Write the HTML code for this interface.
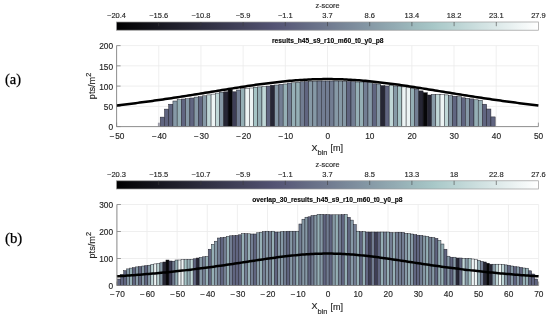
<!DOCTYPE html>
<html><head><meta charset="utf-8"><style>
html,body{margin:0;padding:0;background:#fff;}
body{width:550px;height:320px;overflow:hidden;}
svg{display:block;}
</style></head><body>
<svg width="550" height="320" viewBox="0 0 550 320">
<defs><linearGradient id="bone" x1="0" x2="1" y1="0" y2="0"><stop offset="0.0000" stop-color="#000000"/><stop offset="0.0156" stop-color="#030305"/><stop offset="0.0312" stop-color="#07070a"/><stop offset="0.0469" stop-color="#0a0a0e"/><stop offset="0.0625" stop-color="#0e0e13"/><stop offset="0.0781" stop-color="#111118"/><stop offset="0.0938" stop-color="#15151d"/><stop offset="0.1094" stop-color="#181822"/><stop offset="0.1250" stop-color="#1c1c27"/><stop offset="0.1406" stop-color="#1f1f2b"/><stop offset="0.1562" stop-color="#232330"/><stop offset="0.1719" stop-color="#262635"/><stop offset="0.1875" stop-color="#2a2a3a"/><stop offset="0.2031" stop-color="#2d2d3f"/><stop offset="0.2188" stop-color="#313143"/><stop offset="0.2344" stop-color="#343448"/><stop offset="0.2500" stop-color="#38384d"/><stop offset="0.2656" stop-color="#3b3b52"/><stop offset="0.2812" stop-color="#3f3f57"/><stop offset="0.2969" stop-color="#42425b"/><stop offset="0.3125" stop-color="#464660"/><stop offset="0.3281" stop-color="#494965"/><stop offset="0.3438" stop-color="#4d4d6a"/><stop offset="0.3594" stop-color="#50506f"/><stop offset="0.3750" stop-color="#545474"/><stop offset="0.3906" stop-color="#575877"/><stop offset="0.4062" stop-color="#5b5d7b"/><stop offset="0.4219" stop-color="#5e627e"/><stop offset="0.4375" stop-color="#626781"/><stop offset="0.4531" stop-color="#656c85"/><stop offset="0.4688" stop-color="#697188"/><stop offset="0.4844" stop-color="#6c758c"/><stop offset="0.5000" stop-color="#707a8f"/><stop offset="0.5156" stop-color="#737f93"/><stop offset="0.5312" stop-color="#778496"/><stop offset="0.5469" stop-color="#7a899a"/><stop offset="0.5625" stop-color="#7e8d9d"/><stop offset="0.5781" stop-color="#8192a1"/><stop offset="0.5938" stop-color="#8497a4"/><stop offset="0.6094" stop-color="#889ca8"/><stop offset="0.6250" stop-color="#8ba1ab"/><stop offset="0.6406" stop-color="#8fa6af"/><stop offset="0.6562" stop-color="#92aab2"/><stop offset="0.6719" stop-color="#96afb6"/><stop offset="0.6875" stop-color="#99b4b9"/><stop offset="0.7031" stop-color="#9db9bd"/><stop offset="0.7188" stop-color="#a0bec0"/><stop offset="0.7344" stop-color="#a4c2c4"/><stop offset="0.7500" stop-color="#a7c7c7"/><stop offset="0.7656" stop-color="#adcbcb"/><stop offset="0.7812" stop-color="#b2cece"/><stop offset="0.7969" stop-color="#b8d2d2"/><stop offset="0.8125" stop-color="#bdd5d5"/><stop offset="0.8281" stop-color="#c3d9d9"/><stop offset="0.8438" stop-color="#c8dcdc"/><stop offset="0.8594" stop-color="#cee0e0"/><stop offset="0.8750" stop-color="#d3e3e3"/><stop offset="0.8906" stop-color="#d9e7e7"/><stop offset="0.9062" stop-color="#deeaea"/><stop offset="0.9219" stop-color="#e4eeee"/><stop offset="0.9375" stop-color="#e9f1f1"/><stop offset="0.9531" stop-color="#eff5f5"/><stop offset="0.9688" stop-color="#f4f8f8"/><stop offset="0.9844" stop-color="#fafcfc"/><stop offset="1.0000" stop-color="#ffffff"/></linearGradient></defs>
<rect width="550" height="320" fill="#fff"/>
<rect x="116.5" y="22.0" width="422.0" height="8.2" fill="url(#bone)" stroke="#9a9a9a" stroke-width="0.7"/>
<text x="116.50" y="17.8" font-family="'Liberation Sans', Arial, Helvetica, sans-serif" stroke="#262626" stroke-width="0.15" font-size="7.5" fill="#262626" text-anchor="middle">−20.4</text>
<line x1="158.70" y1="22.0" x2="158.70" y2="26.2" stroke="#3a3a3a" stroke-width="0.55"/>
<text x="158.70" y="17.8" font-family="'Liberation Sans', Arial, Helvetica, sans-serif" stroke="#262626" stroke-width="0.15" font-size="7.5" fill="#262626" text-anchor="middle">−15.6</text>
<line x1="200.90" y1="22.0" x2="200.90" y2="26.2" stroke="#3a3a3a" stroke-width="0.55"/>
<text x="200.90" y="17.8" font-family="'Liberation Sans', Arial, Helvetica, sans-serif" stroke="#262626" stroke-width="0.15" font-size="7.5" fill="#262626" text-anchor="middle">−10.8</text>
<line x1="243.10" y1="22.0" x2="243.10" y2="26.2" stroke="#3a3a3a" stroke-width="0.55"/>
<text x="243.10" y="17.8" font-family="'Liberation Sans', Arial, Helvetica, sans-serif" stroke="#262626" stroke-width="0.15" font-size="7.5" fill="#262626" text-anchor="middle">−5.9</text>
<line x1="285.30" y1="22.0" x2="285.30" y2="26.2" stroke="#3a3a3a" stroke-width="0.55"/>
<text x="285.30" y="17.8" font-family="'Liberation Sans', Arial, Helvetica, sans-serif" stroke="#262626" stroke-width="0.15" font-size="7.5" fill="#262626" text-anchor="middle">−1.1</text>
<line x1="327.50" y1="22.0" x2="327.50" y2="26.2" stroke="#3a3a3a" stroke-width="0.55"/>
<text x="327.50" y="17.8" font-family="'Liberation Sans', Arial, Helvetica, sans-serif" stroke="#262626" stroke-width="0.15" font-size="7.5" fill="#262626" text-anchor="middle">3.7</text>
<line x1="369.70" y1="22.0" x2="369.70" y2="26.2" stroke="#3a3a3a" stroke-width="0.55"/>
<text x="369.70" y="17.8" font-family="'Liberation Sans', Arial, Helvetica, sans-serif" stroke="#262626" stroke-width="0.15" font-size="7.5" fill="#262626" text-anchor="middle">8.6</text>
<line x1="411.90" y1="22.0" x2="411.90" y2="26.2" stroke="#3a3a3a" stroke-width="0.55"/>
<text x="411.90" y="17.8" font-family="'Liberation Sans', Arial, Helvetica, sans-serif" stroke="#262626" stroke-width="0.15" font-size="7.5" fill="#262626" text-anchor="middle">13.4</text>
<line x1="454.10" y1="22.0" x2="454.10" y2="26.2" stroke="#3a3a3a" stroke-width="0.55"/>
<text x="454.10" y="17.8" font-family="'Liberation Sans', Arial, Helvetica, sans-serif" stroke="#262626" stroke-width="0.15" font-size="7.5" fill="#262626" text-anchor="middle">18.2</text>
<line x1="496.30" y1="22.0" x2="496.30" y2="26.2" stroke="#3a3a3a" stroke-width="0.55"/>
<text x="496.30" y="17.8" font-family="'Liberation Sans', Arial, Helvetica, sans-serif" stroke="#262626" stroke-width="0.15" font-size="7.5" fill="#262626" text-anchor="middle">23.1</text>
<text x="538.50" y="17.8" font-family="'Liberation Sans', Arial, Helvetica, sans-serif" stroke="#262626" stroke-width="0.15" font-size="7.5" fill="#262626" text-anchor="middle">27.9</text>
<text x="327.50" y="8.0" font-family="'Liberation Sans', Arial, Helvetica, sans-serif" stroke="#262626" stroke-width="0.15" font-size="7.3" fill="#262626" text-anchor="middle">z-score</text>
<line x1="116.60" y1="45.6" x2="116.60" y2="126.6" stroke="#ebebeb" stroke-width="0.8"/>
<line x1="158.78" y1="45.6" x2="158.78" y2="126.6" stroke="#ebebeb" stroke-width="0.8"/>
<line x1="200.96" y1="45.6" x2="200.96" y2="126.6" stroke="#ebebeb" stroke-width="0.8"/>
<line x1="243.14" y1="45.6" x2="243.14" y2="126.6" stroke="#ebebeb" stroke-width="0.8"/>
<line x1="285.32" y1="45.6" x2="285.32" y2="126.6" stroke="#ebebeb" stroke-width="0.8"/>
<line x1="327.50" y1="45.6" x2="327.50" y2="126.6" stroke="#ebebeb" stroke-width="0.8"/>
<line x1="369.68" y1="45.6" x2="369.68" y2="126.6" stroke="#ebebeb" stroke-width="0.8"/>
<line x1="411.86" y1="45.6" x2="411.86" y2="126.6" stroke="#ebebeb" stroke-width="0.8"/>
<line x1="454.04" y1="45.6" x2="454.04" y2="126.6" stroke="#ebebeb" stroke-width="0.8"/>
<line x1="496.22" y1="45.6" x2="496.22" y2="126.6" stroke="#ebebeb" stroke-width="0.8"/>
<line x1="538.40" y1="45.6" x2="538.40" y2="126.6" stroke="#ebebeb" stroke-width="0.8"/>
<line x1="116.6" y1="126.60" x2="538.4" y2="126.60" stroke="#ebebeb" stroke-width="0.8"/>
<line x1="116.6" y1="106.35" x2="538.4" y2="106.35" stroke="#ebebeb" stroke-width="0.8"/>
<line x1="116.6" y1="86.10" x2="538.4" y2="86.10" stroke="#ebebeb" stroke-width="0.8"/>
<line x1="116.6" y1="65.85" x2="538.4" y2="65.85" stroke="#ebebeb" stroke-width="0.8"/>
<line x1="116.6" y1="45.60" x2="538.4" y2="45.60" stroke="#ebebeb" stroke-width="0.8"/>
<line x1="116.60" y1="126.6" x2="116.60" y2="122.6" stroke="#808080" stroke-width="0.8"/>
<line x1="200.96" y1="126.6" x2="200.96" y2="122.6" stroke="#808080" stroke-width="0.8"/>
<line x1="243.14" y1="126.6" x2="243.14" y2="122.6" stroke="#808080" stroke-width="0.8"/>
<line x1="285.32" y1="126.6" x2="285.32" y2="122.6" stroke="#808080" stroke-width="0.8"/>
<line x1="327.50" y1="126.6" x2="327.50" y2="122.6" stroke="#808080" stroke-width="0.8"/>
<line x1="369.68" y1="126.6" x2="369.68" y2="122.6" stroke="#808080" stroke-width="0.8"/>
<line x1="411.86" y1="126.6" x2="411.86" y2="122.6" stroke="#808080" stroke-width="0.8"/>
<line x1="454.04" y1="126.6" x2="454.04" y2="122.6" stroke="#808080" stroke-width="0.8"/>
<line x1="538.40" y1="126.6" x2="538.40" y2="122.6" stroke="#808080" stroke-width="0.8"/>
<line x1="116.6" y1="126.60" x2="120.6" y2="126.60" stroke="#808080" stroke-width="0.8"/>
<line x1="116.6" y1="106.35" x2="120.6" y2="106.35" stroke="#808080" stroke-width="0.8"/>
<line x1="116.6" y1="86.10" x2="120.6" y2="86.10" stroke="#808080" stroke-width="0.8"/>
<line x1="116.6" y1="65.85" x2="120.6" y2="65.85" stroke="#808080" stroke-width="0.8"/>
<line x1="116.6" y1="45.60" x2="120.6" y2="45.60" stroke="#808080" stroke-width="0.8"/>
<rect x="157.9" y="122.7" width="1.9" height="3.90" fill="#9a9aa6"/>
<rect x="160.20" y="117.10" width="4.24" height="9.50" fill="#606580" stroke="#1a1a22" stroke-width="0.45"/>
<rect x="164.44" y="109.10" width="4.24" height="17.50" fill="#606580" stroke="#1a1a22" stroke-width="0.45"/>
<rect x="168.68" y="104.20" width="4.24" height="22.40" fill="#606580" stroke="#1a1a22" stroke-width="0.45"/>
<rect x="172.92" y="101.00" width="4.24" height="25.60" fill="#8699a6" stroke="#1a1a22" stroke-width="0.45"/>
<rect x="177.16" y="99.70" width="4.24" height="26.90" fill="#95afb5" stroke="#1a1a22" stroke-width="0.45"/>
<rect x="181.40" y="99.00" width="4.24" height="27.60" fill="#606580" stroke="#1a1a22" stroke-width="0.45"/>
<rect x="185.64" y="98.70" width="4.24" height="27.90" fill="#8699a6" stroke="#1a1a22" stroke-width="0.45"/>
<rect x="189.88" y="98.00" width="4.24" height="28.60" fill="#606580" stroke="#1a1a22" stroke-width="0.45"/>
<rect x="194.12" y="97.10" width="4.24" height="29.50" fill="#8699a6" stroke="#1a1a22" stroke-width="0.45"/>
<rect x="198.36" y="96.70" width="4.24" height="29.90" fill="#606580" stroke="#1a1a22" stroke-width="0.45"/>
<rect x="202.60" y="95.80" width="4.24" height="30.80" fill="#8699a6" stroke="#1a1a22" stroke-width="0.45"/>
<rect x="206.84" y="94.90" width="4.24" height="31.70" fill="#c0d7d7" stroke="#1a1a22" stroke-width="0.45"/>
<rect x="211.08" y="94.10" width="4.24" height="32.50" fill="#edf4f4" stroke="#1a1a22" stroke-width="0.45"/>
<rect x="215.32" y="93.10" width="4.24" height="33.50" fill="#c0d7d7" stroke="#1a1a22" stroke-width="0.45"/>
<rect x="219.56" y="92.20" width="4.24" height="34.40" fill="#8699a6" stroke="#1a1a22" stroke-width="0.45"/>
<rect x="223.80" y="91.80" width="4.24" height="34.80" fill="#262634" stroke="#1a1a22" stroke-width="0.45"/>
<rect x="228.04" y="89.60" width="4.24" height="37.00" fill="#070709" stroke="#1a1a22" stroke-width="0.45"/>
<rect x="232.28" y="91.80" width="4.24" height="34.80" fill="#3e3e56" stroke="#1a1a22" stroke-width="0.45"/>
<rect x="236.52" y="90.00" width="4.24" height="36.60" fill="#727d92" stroke="#1a1a22" stroke-width="0.45"/>
<rect x="240.76" y="88.70" width="4.24" height="37.90" fill="#95afb5" stroke="#1a1a22" stroke-width="0.45"/>
<rect x="245.00" y="88.30" width="4.24" height="38.30" fill="#edf4f4" stroke="#1a1a22" stroke-width="0.45"/>
<rect x="249.24" y="88.00" width="4.24" height="38.60" fill="#edf4f4" stroke="#1a1a22" stroke-width="0.45"/>
<rect x="253.48" y="87.30" width="4.24" height="39.30" fill="#a5c4c5" stroke="#1a1a22" stroke-width="0.45"/>
<rect x="257.72" y="86.90" width="4.24" height="39.70" fill="#95afb5" stroke="#1a1a22" stroke-width="0.45"/>
<rect x="261.96" y="86.50" width="4.24" height="40.10" fill="#c0d7d7" stroke="#1a1a22" stroke-width="0.45"/>
<rect x="266.20" y="86.10" width="4.24" height="40.50" fill="#606580" stroke="#1a1a22" stroke-width="0.45"/>
<rect x="270.44" y="85.20" width="4.24" height="41.40" fill="#262634" stroke="#1a1a22" stroke-width="0.45"/>
<rect x="274.68" y="85.00" width="4.24" height="41.60" fill="#8699a6" stroke="#1a1a22" stroke-width="0.45"/>
<rect x="278.92" y="84.30" width="4.24" height="42.30" fill="#727d92" stroke="#1a1a22" stroke-width="0.45"/>
<rect x="283.16" y="84.00" width="4.24" height="42.60" fill="#95afb5" stroke="#1a1a22" stroke-width="0.45"/>
<rect x="287.40" y="83.00" width="4.24" height="43.60" fill="#727d92" stroke="#1a1a22" stroke-width="0.45"/>
<rect x="291.64" y="82.80" width="4.24" height="43.80" fill="#95afb5" stroke="#1a1a22" stroke-width="0.45"/>
<rect x="295.88" y="82.30" width="4.24" height="44.30" fill="#95afb5" stroke="#1a1a22" stroke-width="0.45"/>
<rect x="300.12" y="81.80" width="4.24" height="44.80" fill="#727d92" stroke="#1a1a22" stroke-width="0.45"/>
<rect x="304.36" y="81.50" width="4.24" height="45.10" fill="#606580" stroke="#1a1a22" stroke-width="0.45"/>
<rect x="308.60" y="81.30" width="4.24" height="45.30" fill="#8699a6" stroke="#1a1a22" stroke-width="0.45"/>
<rect x="312.84" y="81.20" width="4.24" height="45.40" fill="#8699a6" stroke="#1a1a22" stroke-width="0.45"/>
<rect x="317.08" y="81.10" width="4.24" height="45.50" fill="#727d92" stroke="#1a1a22" stroke-width="0.45"/>
<rect x="321.32" y="81.00" width="4.24" height="45.60" fill="#727d92" stroke="#1a1a22" stroke-width="0.45"/>
<rect x="325.56" y="81.00" width="4.24" height="45.60" fill="#727d92" stroke="#1a1a22" stroke-width="0.45"/>
<rect x="329.80" y="81.00" width="4.24" height="45.60" fill="#727d92" stroke="#1a1a22" stroke-width="0.45"/>
<rect x="334.04" y="81.00" width="4.24" height="45.60" fill="#8699a6" stroke="#1a1a22" stroke-width="0.45"/>
<rect x="338.28" y="81.10" width="4.24" height="45.50" fill="#8699a6" stroke="#1a1a22" stroke-width="0.45"/>
<rect x="342.52" y="81.30" width="4.24" height="45.30" fill="#8699a6" stroke="#1a1a22" stroke-width="0.45"/>
<rect x="346.76" y="81.50" width="4.24" height="45.10" fill="#606580" stroke="#1a1a22" stroke-width="0.45"/>
<rect x="351.00" y="81.70" width="4.24" height="44.90" fill="#727d92" stroke="#1a1a22" stroke-width="0.45"/>
<rect x="355.24" y="82.00" width="4.24" height="44.60" fill="#95afb5" stroke="#1a1a22" stroke-width="0.45"/>
<rect x="359.48" y="82.00" width="4.24" height="44.60" fill="#95afb5" stroke="#1a1a22" stroke-width="0.45"/>
<rect x="363.72" y="82.30" width="4.24" height="44.30" fill="#727d92" stroke="#1a1a22" stroke-width="0.45"/>
<rect x="367.96" y="82.50" width="4.24" height="44.10" fill="#8699a6" stroke="#1a1a22" stroke-width="0.45"/>
<rect x="372.20" y="83.80" width="4.24" height="42.80" fill="#606580" stroke="#1a1a22" stroke-width="0.45"/>
<rect x="376.44" y="84.00" width="4.24" height="42.60" fill="#8699a6" stroke="#1a1a22" stroke-width="0.45"/>
<rect x="380.68" y="85.60" width="4.24" height="41.00" fill="#262634" stroke="#1a1a22" stroke-width="0.45"/>
<rect x="384.92" y="86.00" width="4.24" height="40.60" fill="#606580" stroke="#1a1a22" stroke-width="0.45"/>
<rect x="389.16" y="85.20" width="4.24" height="41.40" fill="#c0d7d7" stroke="#1a1a22" stroke-width="0.45"/>
<rect x="393.40" y="86.00" width="4.24" height="40.60" fill="#8699a6" stroke="#1a1a22" stroke-width="0.45"/>
<rect x="397.64" y="86.30" width="4.24" height="40.30" fill="#a5c4c5" stroke="#1a1a22" stroke-width="0.45"/>
<rect x="401.88" y="86.90" width="4.24" height="39.70" fill="#edf4f4" stroke="#1a1a22" stroke-width="0.45"/>
<rect x="406.12" y="87.80" width="4.24" height="38.80" fill="#edf4f4" stroke="#1a1a22" stroke-width="0.45"/>
<rect x="410.36" y="88.20" width="4.24" height="38.40" fill="#95afb5" stroke="#1a1a22" stroke-width="0.45"/>
<rect x="414.60" y="89.10" width="4.24" height="37.50" fill="#727d92" stroke="#1a1a22" stroke-width="0.45"/>
<rect x="418.84" y="90.90" width="4.24" height="35.70" fill="#262634" stroke="#1a1a22" stroke-width="0.45"/>
<rect x="423.08" y="92.70" width="4.24" height="33.90" fill="#070709" stroke="#1a1a22" stroke-width="0.45"/>
<rect x="427.32" y="95.00" width="4.24" height="31.60" fill="#262634" stroke="#1a1a22" stroke-width="0.45"/>
<rect x="431.56" y="94.40" width="4.24" height="32.20" fill="#8699a6" stroke="#1a1a22" stroke-width="0.45"/>
<rect x="435.80" y="94.40" width="4.24" height="32.20" fill="#c0d7d7" stroke="#1a1a22" stroke-width="0.45"/>
<rect x="440.04" y="94.70" width="4.24" height="31.90" fill="#edf4f4" stroke="#1a1a22" stroke-width="0.45"/>
<rect x="444.28" y="94.90" width="4.24" height="31.70" fill="#c0d7d7" stroke="#1a1a22" stroke-width="0.45"/>
<rect x="448.52" y="95.60" width="4.24" height="31.00" fill="#8699a6" stroke="#1a1a22" stroke-width="0.45"/>
<rect x="452.76" y="96.20" width="4.24" height="30.40" fill="#606580" stroke="#1a1a22" stroke-width="0.45"/>
<rect x="457.00" y="96.70" width="4.24" height="29.90" fill="#8699a6" stroke="#1a1a22" stroke-width="0.45"/>
<rect x="461.24" y="97.80" width="4.24" height="28.80" fill="#606580" stroke="#1a1a22" stroke-width="0.45"/>
<rect x="465.48" y="98.30" width="4.24" height="28.30" fill="#8699a6" stroke="#1a1a22" stroke-width="0.45"/>
<rect x="469.72" y="98.90" width="4.24" height="27.70" fill="#606580" stroke="#1a1a22" stroke-width="0.45"/>
<rect x="473.96" y="99.80" width="4.24" height="26.80" fill="#95afb5" stroke="#1a1a22" stroke-width="0.45"/>
<rect x="478.20" y="100.20" width="4.24" height="26.40" fill="#95afb5" stroke="#1a1a22" stroke-width="0.45"/>
<rect x="482.44" y="104.20" width="4.24" height="22.40" fill="#606580" stroke="#1a1a22" stroke-width="0.45"/>
<rect x="486.68" y="109.00" width="4.24" height="17.60" fill="#606580" stroke="#1a1a22" stroke-width="0.45"/>
<rect x="490.92" y="116.90" width="4.24" height="9.70" fill="#606580" stroke="#1a1a22" stroke-width="0.45"/>
<polyline points="116.60,105.47 118.71,105.22 120.82,104.97 122.93,104.72 125.04,104.47 127.14,104.21 129.25,103.95 131.36,103.69 133.47,103.42 135.58,103.15 137.69,102.88 139.80,102.61 141.91,102.33 144.02,102.05 146.13,101.77 148.23,101.48 150.34,101.19 152.45,100.90 154.56,100.60 156.67,100.31 158.78,100.01 160.89,99.70 163.00,99.40 165.11,99.09 167.22,98.78 169.32,98.47 171.43,98.15 173.54,97.84 175.65,97.52 177.76,97.19 179.87,96.87 181.98,96.54 184.09,96.21 186.20,95.88 188.31,95.55 190.41,95.22 192.52,94.88 194.63,94.55 196.74,94.21 198.85,93.87 200.96,93.53 203.07,93.18 205.18,92.84 207.29,92.50 209.40,92.16 211.50,91.81 213.61,91.47 215.72,91.12 217.83,90.78 219.94,90.44 222.05,90.09 224.16,89.75 226.27,89.41 228.38,89.07 230.49,88.73 232.59,88.39 234.70,88.06 236.81,87.73 238.92,87.39 241.03,87.07 243.14,86.74 245.25,86.42 247.36,86.10 249.47,85.78 251.58,85.47 253.69,85.17 255.79,84.86 257.90,84.57 260.01,84.27 262.12,83.99 264.23,83.70 266.34,83.43 268.45,83.16 270.56,82.89 272.67,82.64 274.77,82.39 276.88,82.14 278.99,81.91 281.10,81.68 283.21,81.46 285.32,81.25 287.43,81.05 289.54,80.86 291.65,80.67 293.76,80.50 295.87,80.33 297.97,80.17 300.08,80.03 302.19,79.89 304.30,79.77 306.41,79.65 308.52,79.54 310.63,79.45 312.74,79.37 314.85,79.29 316.95,79.23 319.06,79.18 321.17,79.14 323.28,79.11 325.39,79.10 327.50,79.09 329.61,79.10 331.72,79.11 333.83,79.14 335.94,79.18 338.04,79.23 340.15,79.29 342.26,79.37 344.37,79.45 346.48,79.54 348.59,79.65 350.70,79.77 352.81,79.89 354.92,80.03 357.03,80.17 359.13,80.33 361.24,80.50 363.35,80.67 365.46,80.86 367.57,81.05 369.68,81.25 371.79,81.46 373.90,81.68 376.01,81.91 378.12,82.14 380.23,82.39 382.33,82.64 384.44,82.89 386.55,83.16 388.66,83.43 390.77,83.70 392.88,83.99 394.99,84.27 397.10,84.57 399.21,84.86 401.31,85.17 403.42,85.47 405.53,85.78 407.64,86.10 409.75,86.42 411.86,86.74 413.97,87.07 416.08,87.39 418.19,87.73 420.30,88.06 422.40,88.39 424.51,88.73 426.62,89.07 428.73,89.41 430.84,89.75 432.95,90.09 435.06,90.44 437.17,90.78 439.28,91.12 441.39,91.47 443.50,91.81 445.60,92.16 447.71,92.50 449.82,92.84 451.93,93.18 454.04,93.53 456.15,93.87 458.26,94.21 460.37,94.55 462.48,94.88 464.59,95.22 466.69,95.55 468.80,95.88 470.91,96.21 473.02,96.54 475.13,96.87 477.24,97.19 479.35,97.52 481.46,97.84 483.57,98.15 485.67,98.47 487.78,98.78 489.89,99.09 492.00,99.40 494.11,99.70 496.22,100.01 498.33,100.31 500.44,100.60 502.55,100.90 504.66,101.19 506.76,101.48 508.87,101.77 510.98,102.05 513.09,102.33 515.20,102.61 517.31,102.88 519.42,103.15 521.53,103.42 523.64,103.69 525.75,103.95 527.86,104.21 529.96,104.47 532.07,104.72 534.18,104.97 536.29,105.22 538.40,105.47" fill="none" stroke="#000" stroke-width="2.5" stroke-linejoin="round"/>
<line x1="116.6" y1="45.6" x2="116.6" y2="126.6" stroke="#858585" stroke-width="0.9"/>
<line x1="116.6" y1="126.6" x2="538.4" y2="126.6" stroke="#858585" stroke-width="0.9"/>
<text x="117.10" y="138.5" font-family="'Liberation Sans', Arial, Helvetica, sans-serif" stroke="#262626" stroke-width="0.15" font-size="8.3" fill="#262626" text-anchor="middle">−<tspan dx="0.7">50</tspan></text>
<text x="159.28" y="138.5" font-family="'Liberation Sans', Arial, Helvetica, sans-serif" stroke="#262626" stroke-width="0.15" font-size="8.3" fill="#262626" text-anchor="middle">−<tspan dx="0.7">40</tspan></text>
<text x="201.46" y="138.5" font-family="'Liberation Sans', Arial, Helvetica, sans-serif" stroke="#262626" stroke-width="0.15" font-size="8.3" fill="#262626" text-anchor="middle">−<tspan dx="0.7">30</tspan></text>
<text x="243.64" y="138.5" font-family="'Liberation Sans', Arial, Helvetica, sans-serif" stroke="#262626" stroke-width="0.15" font-size="8.3" fill="#262626" text-anchor="middle">−<tspan dx="0.7">20</tspan></text>
<text x="285.82" y="138.5" font-family="'Liberation Sans', Arial, Helvetica, sans-serif" stroke="#262626" stroke-width="0.15" font-size="8.3" fill="#262626" text-anchor="middle">−<tspan dx="0.7">10</tspan></text>
<text x="327.70" y="138.5" font-family="'Liberation Sans', Arial, Helvetica, sans-serif" stroke="#262626" stroke-width="0.15" font-size="8.3" fill="#262626" text-anchor="middle">0</text>
<text x="369.88" y="138.5" font-family="'Liberation Sans', Arial, Helvetica, sans-serif" stroke="#262626" stroke-width="0.15" font-size="8.3" fill="#262626" text-anchor="middle">10</text>
<text x="412.06" y="138.5" font-family="'Liberation Sans', Arial, Helvetica, sans-serif" stroke="#262626" stroke-width="0.15" font-size="8.3" fill="#262626" text-anchor="middle">20</text>
<text x="454.24" y="138.5" font-family="'Liberation Sans', Arial, Helvetica, sans-serif" stroke="#262626" stroke-width="0.15" font-size="8.3" fill="#262626" text-anchor="middle">30</text>
<text x="496.42" y="138.5" font-family="'Liberation Sans', Arial, Helvetica, sans-serif" stroke="#262626" stroke-width="0.15" font-size="8.3" fill="#262626" text-anchor="middle">40</text>
<text x="538.60" y="138.5" font-family="'Liberation Sans', Arial, Helvetica, sans-serif" stroke="#262626" stroke-width="0.15" font-size="8.3" fill="#262626" text-anchor="middle">50</text>
<text x="113.1" y="130.30" font-family="'Liberation Sans', Arial, Helvetica, sans-serif" stroke="#262626" stroke-width="0.15" font-size="8.3" fill="#262626" text-anchor="end">0</text>
<text x="113.1" y="110.05" font-family="'Liberation Sans', Arial, Helvetica, sans-serif" stroke="#262626" stroke-width="0.15" font-size="8.3" fill="#262626" text-anchor="end">50</text>
<text x="113.1" y="89.80" font-family="'Liberation Sans', Arial, Helvetica, sans-serif" stroke="#262626" stroke-width="0.15" font-size="8.3" fill="#262626" text-anchor="end">100</text>
<text x="113.1" y="69.55" font-family="'Liberation Sans', Arial, Helvetica, sans-serif" stroke="#262626" stroke-width="0.15" font-size="8.3" fill="#262626" text-anchor="end">150</text>
<text x="113.1" y="49.30" font-family="'Liberation Sans', Arial, Helvetica, sans-serif" stroke="#262626" stroke-width="0.15" font-size="8.3" fill="#262626" text-anchor="end">200</text>
<text x="327.8" y="42.6" font-family="'Liberation Sans', Arial, Helvetica, sans-serif" stroke="#262626" stroke-width="0.15" font-size="6.7" font-weight="bold" fill="#000" text-anchor="middle">results_h45_s9_r10_m60_t0_y0_p8</text>
<text x="311.5" y="151.0" font-family="'Liberation Sans', Arial, Helvetica, sans-serif" stroke="#262626" stroke-width="0.15" font-size="9" fill="#262626">X</text>
<text x="317.4" y="155.40" font-family="'Liberation Sans', Arial, Helvetica, sans-serif" stroke="#262626" stroke-width="0.15" font-size="7.4" fill="#262626">bin</text>
<text x="330.6" y="151.20" font-family="'Liberation Sans', Arial, Helvetica, sans-serif" stroke="#262626" stroke-width="0.15" font-size="9" fill="#262626">[m]</text>
<text transform="translate(94.7,86) rotate(-90)" font-family="'Liberation Sans', Arial, Helvetica, sans-serif" stroke="#262626" stroke-width="0.15" font-size="9.2" fill="#262626" text-anchor="middle">pts/m<tspan font-size="7.2" dy="-4.2">2</tspan></text>
<text x="5.0" y="83.9" font-family="'Liberation Serif', 'Times New Roman', serif" font-size="14.4" fill="#000" stroke="#000" stroke-width="0.25">(a)</text>
<rect x="116.5" y="180.8" width="422.0" height="8.2" fill="url(#bone)" stroke="#9a9a9a" stroke-width="0.7"/>
<text x="116.50" y="176.5" font-family="'Liberation Sans', Arial, Helvetica, sans-serif" stroke="#262626" stroke-width="0.15" font-size="7.5" fill="#262626" text-anchor="middle">−20.3</text>
<line x1="158.70" y1="180.8" x2="158.70" y2="185.0" stroke="#3a3a3a" stroke-width="0.55"/>
<text x="158.70" y="176.5" font-family="'Liberation Sans', Arial, Helvetica, sans-serif" stroke="#262626" stroke-width="0.15" font-size="7.5" fill="#262626" text-anchor="middle">−15.5</text>
<line x1="200.90" y1="180.8" x2="200.90" y2="185.0" stroke="#3a3a3a" stroke-width="0.55"/>
<text x="200.90" y="176.5" font-family="'Liberation Sans', Arial, Helvetica, sans-serif" stroke="#262626" stroke-width="0.15" font-size="7.5" fill="#262626" text-anchor="middle">−10.7</text>
<line x1="243.10" y1="180.8" x2="243.10" y2="185.0" stroke="#3a3a3a" stroke-width="0.55"/>
<text x="243.10" y="176.5" font-family="'Liberation Sans', Arial, Helvetica, sans-serif" stroke="#262626" stroke-width="0.15" font-size="7.5" fill="#262626" text-anchor="middle">−5.9</text>
<line x1="285.30" y1="180.8" x2="285.30" y2="185.0" stroke="#3a3a3a" stroke-width="0.55"/>
<text x="285.30" y="176.5" font-family="'Liberation Sans', Arial, Helvetica, sans-serif" stroke="#262626" stroke-width="0.15" font-size="7.5" fill="#262626" text-anchor="middle">−1.1</text>
<line x1="327.50" y1="180.8" x2="327.50" y2="185.0" stroke="#3a3a3a" stroke-width="0.55"/>
<text x="327.50" y="176.5" font-family="'Liberation Sans', Arial, Helvetica, sans-serif" stroke="#262626" stroke-width="0.15" font-size="7.5" fill="#262626" text-anchor="middle">3.7</text>
<line x1="369.70" y1="180.8" x2="369.70" y2="185.0" stroke="#3a3a3a" stroke-width="0.55"/>
<text x="369.70" y="176.5" font-family="'Liberation Sans', Arial, Helvetica, sans-serif" stroke="#262626" stroke-width="0.15" font-size="7.5" fill="#262626" text-anchor="middle">8.5</text>
<line x1="411.90" y1="180.8" x2="411.90" y2="185.0" stroke="#3a3a3a" stroke-width="0.55"/>
<text x="411.90" y="176.5" font-family="'Liberation Sans', Arial, Helvetica, sans-serif" stroke="#262626" stroke-width="0.15" font-size="7.5" fill="#262626" text-anchor="middle">13.3</text>
<line x1="454.10" y1="180.8" x2="454.10" y2="185.0" stroke="#3a3a3a" stroke-width="0.55"/>
<text x="454.10" y="176.5" font-family="'Liberation Sans', Arial, Helvetica, sans-serif" stroke="#262626" stroke-width="0.15" font-size="7.5" fill="#262626" text-anchor="middle">18</text>
<line x1="496.30" y1="180.8" x2="496.30" y2="185.0" stroke="#3a3a3a" stroke-width="0.55"/>
<text x="496.30" y="176.5" font-family="'Liberation Sans', Arial, Helvetica, sans-serif" stroke="#262626" stroke-width="0.15" font-size="7.5" fill="#262626" text-anchor="middle">22.8</text>
<text x="538.50" y="176.5" font-family="'Liberation Sans', Arial, Helvetica, sans-serif" stroke="#262626" stroke-width="0.15" font-size="7.5" fill="#262626" text-anchor="middle">27.6</text>
<text x="327.50" y="166.7" font-family="'Liberation Sans', Arial, Helvetica, sans-serif" stroke="#262626" stroke-width="0.15" font-size="7.3" fill="#262626" text-anchor="middle">z-score</text>
<line x1="116.90" y1="204.5" x2="116.90" y2="285.5" stroke="#ebebeb" stroke-width="0.8"/>
<line x1="147.02" y1="204.5" x2="147.02" y2="285.5" stroke="#ebebeb" stroke-width="0.8"/>
<line x1="177.14" y1="204.5" x2="177.14" y2="285.5" stroke="#ebebeb" stroke-width="0.8"/>
<line x1="207.26" y1="204.5" x2="207.26" y2="285.5" stroke="#ebebeb" stroke-width="0.8"/>
<line x1="237.39" y1="204.5" x2="237.39" y2="285.5" stroke="#ebebeb" stroke-width="0.8"/>
<line x1="267.51" y1="204.5" x2="267.51" y2="285.5" stroke="#ebebeb" stroke-width="0.8"/>
<line x1="297.63" y1="204.5" x2="297.63" y2="285.5" stroke="#ebebeb" stroke-width="0.8"/>
<line x1="327.75" y1="204.5" x2="327.75" y2="285.5" stroke="#ebebeb" stroke-width="0.8"/>
<line x1="357.87" y1="204.5" x2="357.87" y2="285.5" stroke="#ebebeb" stroke-width="0.8"/>
<line x1="387.99" y1="204.5" x2="387.99" y2="285.5" stroke="#ebebeb" stroke-width="0.8"/>
<line x1="418.11" y1="204.5" x2="418.11" y2="285.5" stroke="#ebebeb" stroke-width="0.8"/>
<line x1="448.24" y1="204.5" x2="448.24" y2="285.5" stroke="#ebebeb" stroke-width="0.8"/>
<line x1="478.36" y1="204.5" x2="478.36" y2="285.5" stroke="#ebebeb" stroke-width="0.8"/>
<line x1="508.48" y1="204.5" x2="508.48" y2="285.5" stroke="#ebebeb" stroke-width="0.8"/>
<line x1="538.60" y1="204.5" x2="538.60" y2="285.5" stroke="#ebebeb" stroke-width="0.8"/>
<line x1="116.9" y1="285.50" x2="538.6" y2="285.50" stroke="#ebebeb" stroke-width="0.8"/>
<line x1="116.9" y1="258.50" x2="538.6" y2="258.50" stroke="#ebebeb" stroke-width="0.8"/>
<line x1="116.9" y1="231.50" x2="538.6" y2="231.50" stroke="#ebebeb" stroke-width="0.8"/>
<line x1="116.9" y1="204.50" x2="538.6" y2="204.50" stroke="#ebebeb" stroke-width="0.8"/>
<line x1="116.90" y1="285.5" x2="116.90" y2="281.5" stroke="#808080" stroke-width="0.8"/>
<line x1="147.02" y1="285.5" x2="147.02" y2="281.5" stroke="#808080" stroke-width="0.8"/>
<line x1="177.14" y1="285.5" x2="177.14" y2="281.5" stroke="#808080" stroke-width="0.8"/>
<line x1="207.26" y1="285.5" x2="207.26" y2="281.5" stroke="#808080" stroke-width="0.8"/>
<line x1="237.39" y1="285.5" x2="237.39" y2="281.5" stroke="#808080" stroke-width="0.8"/>
<line x1="267.51" y1="285.5" x2="267.51" y2="281.5" stroke="#808080" stroke-width="0.8"/>
<line x1="297.63" y1="285.5" x2="297.63" y2="281.5" stroke="#808080" stroke-width="0.8"/>
<line x1="327.75" y1="285.5" x2="327.75" y2="281.5" stroke="#808080" stroke-width="0.8"/>
<line x1="357.87" y1="285.5" x2="357.87" y2="281.5" stroke="#808080" stroke-width="0.8"/>
<line x1="387.99" y1="285.5" x2="387.99" y2="281.5" stroke="#808080" stroke-width="0.8"/>
<line x1="418.11" y1="285.5" x2="418.11" y2="281.5" stroke="#808080" stroke-width="0.8"/>
<line x1="448.24" y1="285.5" x2="448.24" y2="281.5" stroke="#808080" stroke-width="0.8"/>
<line x1="478.36" y1="285.5" x2="478.36" y2="281.5" stroke="#808080" stroke-width="0.8"/>
<line x1="508.48" y1="285.5" x2="508.48" y2="281.5" stroke="#808080" stroke-width="0.8"/>
<line x1="538.60" y1="285.5" x2="538.60" y2="281.5" stroke="#808080" stroke-width="0.8"/>
<line x1="116.9" y1="285.50" x2="120.9" y2="285.50" stroke="#808080" stroke-width="0.8"/>
<line x1="116.9" y1="258.50" x2="120.9" y2="258.50" stroke="#808080" stroke-width="0.8"/>
<line x1="116.9" y1="231.50" x2="120.9" y2="231.50" stroke="#808080" stroke-width="0.8"/>
<line x1="116.9" y1="204.50" x2="120.9" y2="204.50" stroke="#808080" stroke-width="0.8"/>
<rect x="117.60" y="279.00" width="3.02" height="6.50" fill="#606580" stroke="#1a1a22" stroke-width="0.45"/>
<rect x="120.62" y="274.40" width="3.02" height="11.10" fill="#606580" stroke="#1a1a22" stroke-width="0.45"/>
<rect x="123.64" y="270.60" width="3.02" height="14.90" fill="#606580" stroke="#1a1a22" stroke-width="0.45"/>
<rect x="126.67" y="268.90" width="3.02" height="16.60" fill="#8699a6" stroke="#1a1a22" stroke-width="0.45"/>
<rect x="129.69" y="268.10" width="3.02" height="17.40" fill="#95afb5" stroke="#1a1a22" stroke-width="0.45"/>
<rect x="132.71" y="267.60" width="3.02" height="17.90" fill="#606580" stroke="#1a1a22" stroke-width="0.45"/>
<rect x="135.73" y="266.90" width="3.02" height="18.60" fill="#8699a6" stroke="#1a1a22" stroke-width="0.45"/>
<rect x="138.75" y="266.50" width="3.02" height="19.00" fill="#606580" stroke="#1a1a22" stroke-width="0.45"/>
<rect x="141.78" y="266.00" width="3.02" height="19.50" fill="#8699a6" stroke="#1a1a22" stroke-width="0.45"/>
<rect x="144.80" y="265.60" width="3.02" height="19.90" fill="#606580" stroke="#1a1a22" stroke-width="0.45"/>
<rect x="147.82" y="265.20" width="3.02" height="20.30" fill="#8699a6" stroke="#1a1a22" stroke-width="0.45"/>
<rect x="150.84" y="264.30" width="3.02" height="21.20" fill="#c0d7d7" stroke="#1a1a22" stroke-width="0.45"/>
<rect x="153.86" y="263.90" width="3.02" height="21.60" fill="#edf4f4" stroke="#1a1a22" stroke-width="0.45"/>
<rect x="156.89" y="263.60" width="3.02" height="21.90" fill="#c0d7d7" stroke="#1a1a22" stroke-width="0.45"/>
<rect x="159.91" y="262.80" width="3.02" height="22.70" fill="#8699a6" stroke="#1a1a22" stroke-width="0.45"/>
<rect x="162.93" y="262.00" width="3.02" height="23.50" fill="#262634" stroke="#1a1a22" stroke-width="0.45"/>
<rect x="165.95" y="260.00" width="3.02" height="25.50" fill="#070709" stroke="#1a1a22" stroke-width="0.45"/>
<rect x="168.97" y="261.00" width="3.02" height="24.50" fill="#3e3e56" stroke="#1a1a22" stroke-width="0.45"/>
<rect x="172.00" y="261.20" width="3.02" height="24.30" fill="#727d92" stroke="#1a1a22" stroke-width="0.45"/>
<rect x="175.02" y="260.00" width="3.02" height="25.50" fill="#95afb5" stroke="#1a1a22" stroke-width="0.45"/>
<rect x="178.04" y="260.00" width="3.02" height="25.50" fill="#edf4f4" stroke="#1a1a22" stroke-width="0.45"/>
<rect x="181.06" y="259.60" width="3.02" height="25.90" fill="#edf4f4" stroke="#1a1a22" stroke-width="0.45"/>
<rect x="184.08" y="259.60" width="3.02" height="25.90" fill="#a5c4c5" stroke="#1a1a22" stroke-width="0.45"/>
<rect x="187.11" y="259.40" width="3.02" height="26.10" fill="#95afb5" stroke="#1a1a22" stroke-width="0.45"/>
<rect x="190.13" y="259.40" width="3.02" height="26.10" fill="#c0d7d7" stroke="#1a1a22" stroke-width="0.45"/>
<rect x="193.15" y="258.80" width="3.02" height="26.70" fill="#606580" stroke="#1a1a22" stroke-width="0.45"/>
<rect x="196.17" y="258.00" width="3.02" height="27.50" fill="#262634" stroke="#1a1a22" stroke-width="0.45"/>
<rect x="199.19" y="257.40" width="3.02" height="28.10" fill="#8699a6" stroke="#1a1a22" stroke-width="0.45"/>
<rect x="202.22" y="256.80" width="3.02" height="28.70" fill="#727d92" stroke="#1a1a22" stroke-width="0.45"/>
<rect x="205.24" y="256.40" width="3.02" height="29.10" fill="#95afb5" stroke="#1a1a22" stroke-width="0.45"/>
<rect x="208.26" y="249.20" width="3.02" height="36.30" fill="#606580" stroke="#1a1a22" stroke-width="0.45"/>
<rect x="211.28" y="244.30" width="3.02" height="41.20" fill="#95afb5" stroke="#1a1a22" stroke-width="0.45"/>
<rect x="214.30" y="241.20" width="3.02" height="44.30" fill="#8699a6" stroke="#1a1a22" stroke-width="0.45"/>
<rect x="217.33" y="238.00" width="3.02" height="47.50" fill="#727d92" stroke="#1a1a22" stroke-width="0.45"/>
<rect x="220.35" y="237.60" width="3.02" height="47.90" fill="#606580" stroke="#1a1a22" stroke-width="0.45"/>
<rect x="223.37" y="237.20" width="3.02" height="48.30" fill="#727d92" stroke="#1a1a22" stroke-width="0.45"/>
<rect x="226.39" y="236.40" width="3.02" height="49.10" fill="#95afb5" stroke="#1a1a22" stroke-width="0.45"/>
<rect x="229.41" y="235.80" width="3.02" height="49.70" fill="#727d92" stroke="#1a1a22" stroke-width="0.45"/>
<rect x="232.44" y="235.60" width="3.02" height="49.90" fill="#606580" stroke="#1a1a22" stroke-width="0.45"/>
<rect x="235.46" y="235.40" width="3.02" height="50.10" fill="#606580" stroke="#1a1a22" stroke-width="0.45"/>
<rect x="238.48" y="234.80" width="3.02" height="50.70" fill="#606580" stroke="#1a1a22" stroke-width="0.45"/>
<rect x="241.50" y="233.60" width="3.02" height="51.90" fill="#95afb5" stroke="#1a1a22" stroke-width="0.45"/>
<rect x="244.52" y="233.60" width="3.02" height="51.90" fill="#727d92" stroke="#1a1a22" stroke-width="0.45"/>
<rect x="247.55" y="233.80" width="3.02" height="51.70" fill="#95afb5" stroke="#1a1a22" stroke-width="0.45"/>
<rect x="250.57" y="234.00" width="3.02" height="51.50" fill="#727d92" stroke="#1a1a22" stroke-width="0.45"/>
<rect x="253.59" y="234.00" width="3.02" height="51.50" fill="#606580" stroke="#1a1a22" stroke-width="0.45"/>
<rect x="256.61" y="232.80" width="3.02" height="52.70" fill="#8699a6" stroke="#1a1a22" stroke-width="0.45"/>
<rect x="259.63" y="232.20" width="3.02" height="53.30" fill="#95afb5" stroke="#1a1a22" stroke-width="0.45"/>
<rect x="262.66" y="231.60" width="3.02" height="53.90" fill="#727d92" stroke="#1a1a22" stroke-width="0.45"/>
<rect x="265.68" y="231.20" width="3.02" height="54.30" fill="#8699a6" stroke="#1a1a22" stroke-width="0.45"/>
<rect x="268.70" y="231.60" width="3.02" height="53.90" fill="#727d92" stroke="#1a1a22" stroke-width="0.45"/>
<rect x="271.72" y="231.20" width="3.02" height="54.30" fill="#95afb5" stroke="#1a1a22" stroke-width="0.45"/>
<rect x="274.74" y="232.00" width="3.02" height="53.50" fill="#606580" stroke="#1a1a22" stroke-width="0.45"/>
<rect x="277.77" y="232.00" width="3.02" height="53.50" fill="#8699a6" stroke="#1a1a22" stroke-width="0.45"/>
<rect x="280.79" y="231.60" width="3.02" height="53.90" fill="#8699a6" stroke="#1a1a22" stroke-width="0.45"/>
<rect x="283.81" y="231.60" width="3.02" height="53.90" fill="#727d92" stroke="#1a1a22" stroke-width="0.45"/>
<rect x="286.83" y="231.20" width="3.02" height="54.30" fill="#606580" stroke="#1a1a22" stroke-width="0.45"/>
<rect x="289.85" y="231.20" width="3.02" height="54.30" fill="#8699a6" stroke="#1a1a22" stroke-width="0.45"/>
<rect x="292.88" y="231.20" width="3.02" height="54.30" fill="#727d92" stroke="#1a1a22" stroke-width="0.45"/>
<rect x="295.90" y="231.20" width="3.02" height="54.30" fill="#95afb5" stroke="#1a1a22" stroke-width="0.45"/>
<rect x="298.92" y="224.00" width="3.02" height="61.50" fill="#727d92" stroke="#1a1a22" stroke-width="0.45"/>
<rect x="301.94" y="219.20" width="3.02" height="66.30" fill="#8699a6" stroke="#1a1a22" stroke-width="0.45"/>
<rect x="304.96" y="217.20" width="3.02" height="68.30" fill="#8699a6" stroke="#1a1a22" stroke-width="0.45"/>
<rect x="307.99" y="216.80" width="3.02" height="68.70" fill="#606580" stroke="#1a1a22" stroke-width="0.45"/>
<rect x="311.01" y="215.60" width="3.02" height="69.90" fill="#727d92" stroke="#1a1a22" stroke-width="0.45"/>
<rect x="314.03" y="215.20" width="3.02" height="70.30" fill="#8699a6" stroke="#1a1a22" stroke-width="0.45"/>
<rect x="317.05" y="214.40" width="3.02" height="71.10" fill="#95afb5" stroke="#1a1a22" stroke-width="0.45"/>
<rect x="320.07" y="214.40" width="3.02" height="71.10" fill="#8699a6" stroke="#1a1a22" stroke-width="0.45"/>
<rect x="323.10" y="214.60" width="3.02" height="70.90" fill="#606580" stroke="#1a1a22" stroke-width="0.45"/>
<rect x="326.12" y="214.60" width="3.02" height="70.90" fill="#727d92" stroke="#1a1a22" stroke-width="0.45"/>
<rect x="329.14" y="214.80" width="3.02" height="70.70" fill="#606580" stroke="#1a1a22" stroke-width="0.45"/>
<rect x="332.16" y="214.80" width="3.02" height="70.70" fill="#8699a6" stroke="#1a1a22" stroke-width="0.45"/>
<rect x="335.18" y="214.80" width="3.02" height="70.70" fill="#95afb5" stroke="#1a1a22" stroke-width="0.45"/>
<rect x="338.21" y="214.80" width="3.02" height="70.70" fill="#727d92" stroke="#1a1a22" stroke-width="0.45"/>
<rect x="341.23" y="214.60" width="3.02" height="70.90" fill="#606580" stroke="#1a1a22" stroke-width="0.45"/>
<rect x="344.25" y="214.40" width="3.02" height="71.10" fill="#95afb5" stroke="#1a1a22" stroke-width="0.45"/>
<rect x="347.27" y="217.30" width="3.02" height="68.20" fill="#606580" stroke="#1a1a22" stroke-width="0.45"/>
<rect x="350.29" y="220.10" width="3.02" height="65.40" fill="#8699a6" stroke="#1a1a22" stroke-width="0.45"/>
<rect x="353.32" y="224.50" width="3.02" height="61.00" fill="#727d92" stroke="#1a1a22" stroke-width="0.45"/>
<rect x="356.34" y="231.20" width="3.02" height="54.30" fill="#95afb5" stroke="#1a1a22" stroke-width="0.45"/>
<rect x="359.36" y="231.60" width="3.02" height="53.90" fill="#606580" stroke="#1a1a22" stroke-width="0.45"/>
<rect x="362.38" y="231.60" width="3.02" height="53.90" fill="#95afb5" stroke="#1a1a22" stroke-width="0.45"/>
<rect x="365.40" y="232.00" width="3.02" height="53.50" fill="#606580" stroke="#1a1a22" stroke-width="0.45"/>
<rect x="368.43" y="232.00" width="3.02" height="53.50" fill="#3e3e56" stroke="#1a1a22" stroke-width="0.45"/>
<rect x="371.45" y="232.00" width="3.02" height="53.50" fill="#727d92" stroke="#1a1a22" stroke-width="0.45"/>
<rect x="374.47" y="232.00" width="3.02" height="53.50" fill="#3e3e56" stroke="#1a1a22" stroke-width="0.45"/>
<rect x="377.49" y="232.00" width="3.02" height="53.50" fill="#606580" stroke="#1a1a22" stroke-width="0.45"/>
<rect x="380.51" y="232.00" width="3.02" height="53.50" fill="#95afb5" stroke="#1a1a22" stroke-width="0.45"/>
<rect x="383.54" y="232.00" width="3.02" height="53.50" fill="#727d92" stroke="#1a1a22" stroke-width="0.45"/>
<rect x="386.56" y="232.00" width="3.02" height="53.50" fill="#95afb5" stroke="#1a1a22" stroke-width="0.45"/>
<rect x="389.58" y="232.40" width="3.02" height="53.10" fill="#727d92" stroke="#1a1a22" stroke-width="0.45"/>
<rect x="392.60" y="232.80" width="3.02" height="52.70" fill="#95afb5" stroke="#1a1a22" stroke-width="0.45"/>
<rect x="395.62" y="232.20" width="3.02" height="53.30" fill="#727d92" stroke="#1a1a22" stroke-width="0.45"/>
<rect x="398.65" y="232.20" width="3.02" height="53.30" fill="#727d92" stroke="#1a1a22" stroke-width="0.45"/>
<rect x="401.67" y="232.40" width="3.02" height="53.10" fill="#727d92" stroke="#1a1a22" stroke-width="0.45"/>
<rect x="404.69" y="233.40" width="3.02" height="52.10" fill="#8699a6" stroke="#1a1a22" stroke-width="0.45"/>
<rect x="407.71" y="233.60" width="3.02" height="51.90" fill="#95afb5" stroke="#1a1a22" stroke-width="0.45"/>
<rect x="410.73" y="234.00" width="3.02" height="51.50" fill="#8699a6" stroke="#1a1a22" stroke-width="0.45"/>
<rect x="413.76" y="234.60" width="3.02" height="50.90" fill="#606580" stroke="#1a1a22" stroke-width="0.45"/>
<rect x="416.78" y="235.20" width="3.02" height="50.30" fill="#606580" stroke="#1a1a22" stroke-width="0.45"/>
<rect x="419.80" y="235.40" width="3.02" height="50.10" fill="#727d92" stroke="#1a1a22" stroke-width="0.45"/>
<rect x="422.82" y="236.00" width="3.02" height="49.50" fill="#8699a6" stroke="#1a1a22" stroke-width="0.45"/>
<rect x="425.84" y="236.40" width="3.02" height="49.10" fill="#95afb5" stroke="#1a1a22" stroke-width="0.45"/>
<rect x="428.87" y="237.20" width="3.02" height="48.30" fill="#727d92" stroke="#1a1a22" stroke-width="0.45"/>
<rect x="431.89" y="237.60" width="3.02" height="47.90" fill="#8699a6" stroke="#1a1a22" stroke-width="0.45"/>
<rect x="434.91" y="238.40" width="3.02" height="47.10" fill="#606580" stroke="#1a1a22" stroke-width="0.45"/>
<rect x="437.93" y="240.40" width="3.02" height="45.10" fill="#95afb5" stroke="#1a1a22" stroke-width="0.45"/>
<rect x="440.95" y="244.00" width="3.02" height="41.50" fill="#95afb5" stroke="#1a1a22" stroke-width="0.45"/>
<rect x="443.98" y="249.20" width="3.02" height="36.30" fill="#606580" stroke="#1a1a22" stroke-width="0.45"/>
<rect x="447.00" y="256.20" width="3.02" height="29.30" fill="#8699a6" stroke="#1a1a22" stroke-width="0.45"/>
<rect x="450.02" y="257.20" width="3.02" height="28.30" fill="#606580" stroke="#1a1a22" stroke-width="0.45"/>
<rect x="453.04" y="257.20" width="3.02" height="28.30" fill="#8699a6" stroke="#1a1a22" stroke-width="0.45"/>
<rect x="456.06" y="258.00" width="3.02" height="27.50" fill="#262634" stroke="#1a1a22" stroke-width="0.45"/>
<rect x="459.09" y="258.00" width="3.02" height="27.50" fill="#606580" stroke="#1a1a22" stroke-width="0.45"/>
<rect x="462.11" y="258.40" width="3.02" height="27.10" fill="#c0d7d7" stroke="#1a1a22" stroke-width="0.45"/>
<rect x="465.13" y="258.40" width="3.02" height="27.10" fill="#8699a6" stroke="#1a1a22" stroke-width="0.45"/>
<rect x="468.15" y="258.40" width="3.02" height="27.10" fill="#a5c4c5" stroke="#1a1a22" stroke-width="0.45"/>
<rect x="471.17" y="259.00" width="3.02" height="26.50" fill="#edf4f4" stroke="#1a1a22" stroke-width="0.45"/>
<rect x="474.20" y="259.20" width="3.02" height="26.30" fill="#edf4f4" stroke="#1a1a22" stroke-width="0.45"/>
<rect x="477.22" y="260.40" width="3.02" height="25.10" fill="#95afb5" stroke="#1a1a22" stroke-width="0.45"/>
<rect x="480.24" y="261.40" width="3.02" height="24.10" fill="#727d92" stroke="#1a1a22" stroke-width="0.45"/>
<rect x="483.26" y="262.00" width="3.02" height="23.50" fill="#262634" stroke="#1a1a22" stroke-width="0.45"/>
<rect x="486.28" y="263.20" width="3.02" height="22.30" fill="#070709" stroke="#1a1a22" stroke-width="0.45"/>
<rect x="489.31" y="264.20" width="3.02" height="21.30" fill="#262634" stroke="#1a1a22" stroke-width="0.45"/>
<rect x="492.33" y="264.20" width="3.02" height="21.30" fill="#8699a6" stroke="#1a1a22" stroke-width="0.45"/>
<rect x="495.35" y="264.20" width="3.02" height="21.30" fill="#c0d7d7" stroke="#1a1a22" stroke-width="0.45"/>
<rect x="498.37" y="264.20" width="3.02" height="21.30" fill="#edf4f4" stroke="#1a1a22" stroke-width="0.45"/>
<rect x="501.39" y="264.30" width="3.02" height="21.20" fill="#c0d7d7" stroke="#1a1a22" stroke-width="0.45"/>
<rect x="504.42" y="264.90" width="3.02" height="20.60" fill="#8699a6" stroke="#1a1a22" stroke-width="0.45"/>
<rect x="507.44" y="265.30" width="3.02" height="20.20" fill="#606580" stroke="#1a1a22" stroke-width="0.45"/>
<rect x="510.46" y="266.00" width="3.02" height="19.50" fill="#8699a6" stroke="#1a1a22" stroke-width="0.45"/>
<rect x="513.48" y="266.60" width="3.02" height="18.90" fill="#606580" stroke="#1a1a22" stroke-width="0.45"/>
<rect x="516.50" y="266.90" width="3.02" height="18.60" fill="#8699a6" stroke="#1a1a22" stroke-width="0.45"/>
<rect x="519.53" y="267.40" width="3.02" height="18.10" fill="#606580" stroke="#1a1a22" stroke-width="0.45"/>
<rect x="522.55" y="268.00" width="3.02" height="17.50" fill="#95afb5" stroke="#1a1a22" stroke-width="0.45"/>
<rect x="525.57" y="268.20" width="3.02" height="17.30" fill="#95afb5" stroke="#1a1a22" stroke-width="0.45"/>
<rect x="528.59" y="270.80" width="3.02" height="14.70" fill="#606580" stroke="#1a1a22" stroke-width="0.45"/>
<rect x="531.61" y="274.00" width="3.02" height="11.50" fill="#606580" stroke="#1a1a22" stroke-width="0.45"/>
<rect x="534.64" y="279.00" width="3.02" height="6.50" fill="#606580" stroke="#1a1a22" stroke-width="0.45"/>
<polyline points="116.90,276.30 119.01,276.17 121.12,276.03 123.23,275.88 125.33,275.74 127.44,275.59 129.55,275.44 131.66,275.28 133.77,275.13 135.88,274.97 137.99,274.80 140.09,274.64 142.20,274.47 144.31,274.29 146.42,274.12 148.53,273.94 150.64,273.76 152.74,273.57 154.85,273.39 156.96,273.19 159.07,273.00 161.18,272.80 163.29,272.60 165.40,272.39 167.50,272.18 169.61,271.97 171.72,271.75 173.83,271.53 175.94,271.31 178.05,271.08 180.16,270.85 182.26,270.61 184.37,270.38 186.48,270.13 188.59,269.89 190.70,269.64 192.81,269.38 194.91,269.12 197.02,268.86 199.13,268.60 201.24,268.33 203.35,268.05 205.46,267.78 207.57,267.50 209.67,267.21 211.78,266.93 213.89,266.64 216.00,266.34 218.11,266.05 220.22,265.75 222.33,265.45 224.43,265.14 226.54,264.83 228.65,264.52 230.76,264.21 232.87,263.90 234.98,263.58 237.08,263.26 239.19,262.94 241.30,262.62 243.41,262.30 245.52,261.98 247.63,261.66 249.74,261.34 251.84,261.02 253.95,260.70 256.06,260.38 258.17,260.07 260.28,259.75 262.39,259.44 264.50,259.13 266.60,258.82 268.71,258.52 270.82,258.22 272.93,257.93 275.04,257.64 277.15,257.36 279.25,257.09 281.36,256.82 283.47,256.56 285.58,256.30 287.69,256.06 289.80,255.82 291.91,255.60 294.01,255.38 296.12,255.18 298.23,254.98 300.34,254.80 302.45,254.62 304.56,254.46 306.67,254.32 308.77,254.18 310.88,254.06 312.99,253.95 315.10,253.86 317.21,253.78 319.32,253.71 321.42,253.66 323.53,253.62 325.64,253.60 327.75,253.59 329.86,253.60 331.97,253.62 334.08,253.66 336.18,253.71 338.29,253.78 340.40,253.86 342.51,253.95 344.62,254.06 346.73,254.18 348.84,254.32 350.94,254.46 353.05,254.62 355.16,254.80 357.27,254.98 359.38,255.18 361.49,255.38 363.59,255.60 365.70,255.82 367.81,256.06 369.92,256.30 372.03,256.56 374.14,256.82 376.25,257.09 378.35,257.36 380.46,257.64 382.57,257.93 384.68,258.22 386.79,258.52 388.90,258.82 391.00,259.13 393.11,259.44 395.22,259.75 397.33,260.07 399.44,260.38 401.55,260.70 403.66,261.02 405.76,261.34 407.87,261.66 409.98,261.98 412.09,262.30 414.20,262.62 416.31,262.94 418.42,263.26 420.52,263.58 422.63,263.90 424.74,264.21 426.85,264.52 428.96,264.83 431.07,265.14 433.18,265.45 435.28,265.75 437.39,266.05 439.50,266.34 441.61,266.64 443.72,266.93 445.83,267.21 447.93,267.50 450.04,267.78 452.15,268.05 454.26,268.33 456.37,268.60 458.48,268.86 460.59,269.12 462.69,269.38 464.80,269.64 466.91,269.89 469.02,270.13 471.13,270.38 473.24,270.61 475.35,270.85 477.45,271.08 479.56,271.31 481.67,271.53 483.78,271.75 485.89,271.97 488.00,272.18 490.10,272.39 492.21,272.60 494.32,272.80 496.43,273.00 498.54,273.19 500.65,273.39 502.76,273.57 504.86,273.76 506.97,273.94 509.08,274.12 511.19,274.29 513.30,274.47 515.41,274.64 517.52,274.80 519.62,274.97 521.73,275.13 523.84,275.28 525.95,275.44 528.06,275.59 530.17,275.74 532.27,275.88 534.38,276.03 536.49,276.17 538.60,276.30" fill="none" stroke="#000" stroke-width="2.5" stroke-linejoin="round"/>
<line x1="116.9" y1="204.5" x2="116.9" y2="285.5" stroke="#858585" stroke-width="0.9"/>
<line x1="116.9" y1="285.5" x2="538.6" y2="285.5" stroke="#858585" stroke-width="0.9"/>
<text x="117.40" y="297.2" font-family="'Liberation Sans', Arial, Helvetica, sans-serif" stroke="#262626" stroke-width="0.15" font-size="8.3" fill="#262626" text-anchor="middle">−<tspan dx="0.7">70</tspan></text>
<text x="147.52" y="297.2" font-family="'Liberation Sans', Arial, Helvetica, sans-serif" stroke="#262626" stroke-width="0.15" font-size="8.3" fill="#262626" text-anchor="middle">−<tspan dx="0.7">60</tspan></text>
<text x="177.64" y="297.2" font-family="'Liberation Sans', Arial, Helvetica, sans-serif" stroke="#262626" stroke-width="0.15" font-size="8.3" fill="#262626" text-anchor="middle">−<tspan dx="0.7">50</tspan></text>
<text x="207.76" y="297.2" font-family="'Liberation Sans', Arial, Helvetica, sans-serif" stroke="#262626" stroke-width="0.15" font-size="8.3" fill="#262626" text-anchor="middle">−<tspan dx="0.7">40</tspan></text>
<text x="237.89" y="297.2" font-family="'Liberation Sans', Arial, Helvetica, sans-serif" stroke="#262626" stroke-width="0.15" font-size="8.3" fill="#262626" text-anchor="middle">−<tspan dx="0.7">30</tspan></text>
<text x="268.01" y="297.2" font-family="'Liberation Sans', Arial, Helvetica, sans-serif" stroke="#262626" stroke-width="0.15" font-size="8.3" fill="#262626" text-anchor="middle">−<tspan dx="0.7">20</tspan></text>
<text x="298.13" y="297.2" font-family="'Liberation Sans', Arial, Helvetica, sans-serif" stroke="#262626" stroke-width="0.15" font-size="8.3" fill="#262626" text-anchor="middle">−<tspan dx="0.7">10</tspan></text>
<text x="327.95" y="297.2" font-family="'Liberation Sans', Arial, Helvetica, sans-serif" stroke="#262626" stroke-width="0.15" font-size="8.3" fill="#262626" text-anchor="middle">0</text>
<text x="358.07" y="297.2" font-family="'Liberation Sans', Arial, Helvetica, sans-serif" stroke="#262626" stroke-width="0.15" font-size="8.3" fill="#262626" text-anchor="middle">10</text>
<text x="388.19" y="297.2" font-family="'Liberation Sans', Arial, Helvetica, sans-serif" stroke="#262626" stroke-width="0.15" font-size="8.3" fill="#262626" text-anchor="middle">20</text>
<text x="418.31" y="297.2" font-family="'Liberation Sans', Arial, Helvetica, sans-serif" stroke="#262626" stroke-width="0.15" font-size="8.3" fill="#262626" text-anchor="middle">30</text>
<text x="448.44" y="297.2" font-family="'Liberation Sans', Arial, Helvetica, sans-serif" stroke="#262626" stroke-width="0.15" font-size="8.3" fill="#262626" text-anchor="middle">40</text>
<text x="478.56" y="297.2" font-family="'Liberation Sans', Arial, Helvetica, sans-serif" stroke="#262626" stroke-width="0.15" font-size="8.3" fill="#262626" text-anchor="middle">50</text>
<text x="508.68" y="297.2" font-family="'Liberation Sans', Arial, Helvetica, sans-serif" stroke="#262626" stroke-width="0.15" font-size="8.3" fill="#262626" text-anchor="middle">60</text>
<text x="538.80" y="297.2" font-family="'Liberation Sans', Arial, Helvetica, sans-serif" stroke="#262626" stroke-width="0.15" font-size="8.3" fill="#262626" text-anchor="middle">70</text>
<text x="113.1" y="289.20" font-family="'Liberation Sans', Arial, Helvetica, sans-serif" stroke="#262626" stroke-width="0.15" font-size="8.3" fill="#262626" text-anchor="end">0</text>
<text x="113.1" y="262.20" font-family="'Liberation Sans', Arial, Helvetica, sans-serif" stroke="#262626" stroke-width="0.15" font-size="8.3" fill="#262626" text-anchor="end">100</text>
<text x="113.1" y="235.20" font-family="'Liberation Sans', Arial, Helvetica, sans-serif" stroke="#262626" stroke-width="0.15" font-size="8.3" fill="#262626" text-anchor="end">200</text>
<text x="113.1" y="208.20" font-family="'Liberation Sans', Arial, Helvetica, sans-serif" stroke="#262626" stroke-width="0.15" font-size="8.3" fill="#262626" text-anchor="end">300</text>
<text x="327.4" y="202.1" font-family="'Liberation Sans', Arial, Helvetica, sans-serif" stroke="#262626" stroke-width="0.15" font-size="6.7" font-weight="bold" fill="#000" text-anchor="middle">overlap_30_results_h45_s9_r10_m60_t0_y0_p8</text>
<text x="311.5" y="309.3" font-family="'Liberation Sans', Arial, Helvetica, sans-serif" stroke="#262626" stroke-width="0.15" font-size="9" fill="#262626">X</text>
<text x="317.4" y="313.70" font-family="'Liberation Sans', Arial, Helvetica, sans-serif" stroke="#262626" stroke-width="0.15" font-size="7.4" fill="#262626">bin</text>
<text x="330.6" y="309.50" font-family="'Liberation Sans', Arial, Helvetica, sans-serif" stroke="#262626" stroke-width="0.15" font-size="9" fill="#262626">[m]</text>
<text transform="translate(94.7,245.3) rotate(-90)" font-family="'Liberation Sans', Arial, Helvetica, sans-serif" stroke="#262626" stroke-width="0.15" font-size="9.2" fill="#262626" text-anchor="middle">pts/m<tspan font-size="7.2" dy="-4.2">2</tspan></text>
<text x="5.0" y="242.6" font-family="'Liberation Serif', 'Times New Roman', serif" font-size="14.8" fill="#000" stroke="#000" stroke-width="0.25">(b)</text>
</svg>
</body></html>
